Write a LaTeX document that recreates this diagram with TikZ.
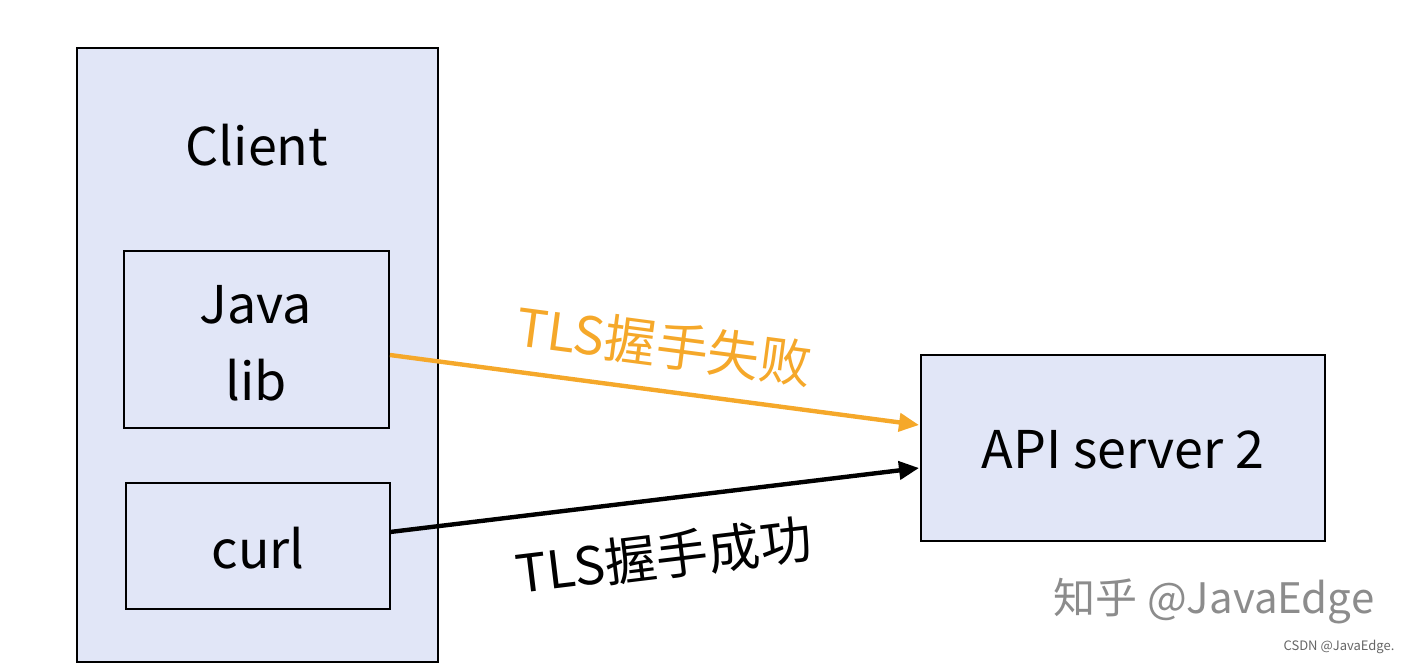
\documentclass[tikz,border=0pt]{standalone}
\usepackage{fontspec}
\setmainfont{Noto Sans CJK SC}
\usetikzlibrary{arrows.meta}
\definecolor{boxfill}{HTML}{E1E6F7}
\definecolor{orng}{HTML}{F5A82A}
\tikzset{
 box/.style={draw=black,line width=1.2pt,fill=boxfill},
 lbl/.style={font=\fontsize{26}{30}\selectfont},
 arr/.style={line width=2.2pt,-{Triangle[length=10pt,width=9pt]}}
}
\begin{document}
\begin{tikzpicture}[x=0.5pt,y=-0.5pt]
\useasboundingbox (0,0) rectangle (1414,664);
\draw[box] (77,48) rectangle (438,662);
\node[lbl] (client) at (257,145) {Client};
\draw[box] (124,251) rectangle (389,428);
\node (java) at (256.5,339.5) {};
\node[lbl] at (256,305) {Java};
\node[lbl] at (256,380) {lib};
\draw[box] (126,483) rectangle (390,609);
\node[lbl] (curl) at (258,548) {curl};
\draw[box] (921,355) rectangle (1325,541);
\node[lbl] (api) at (1123,450) {API server 2};
\coordinate (j) at (390,355);
\coordinate (c) at (390,532);
\coordinate (a1) at (919,425);
\coordinate (a2) at (919,468);
\draw[arr,orng] (j) -- (a1);
\draw[arr,black] (c) -- (a2);
\node[lbl,text=orng,rotate=-7.5] (fail) at (664,345) {TLS握手失败};
\node[lbl,rotate=6.9] (ok) at (664,556) {TLS握手成功};
\node[text=black!45,font=\fontsize{21}{24}\selectfont] (wm) at (1214,601) {知乎 @JavaEdge};
\node[text=black!60,font=\fontsize{6.5}{8}\selectfont] (csdn) at (1339,647) {CSDN @JavaEdge.};
\end{tikzpicture}
\end{document}
